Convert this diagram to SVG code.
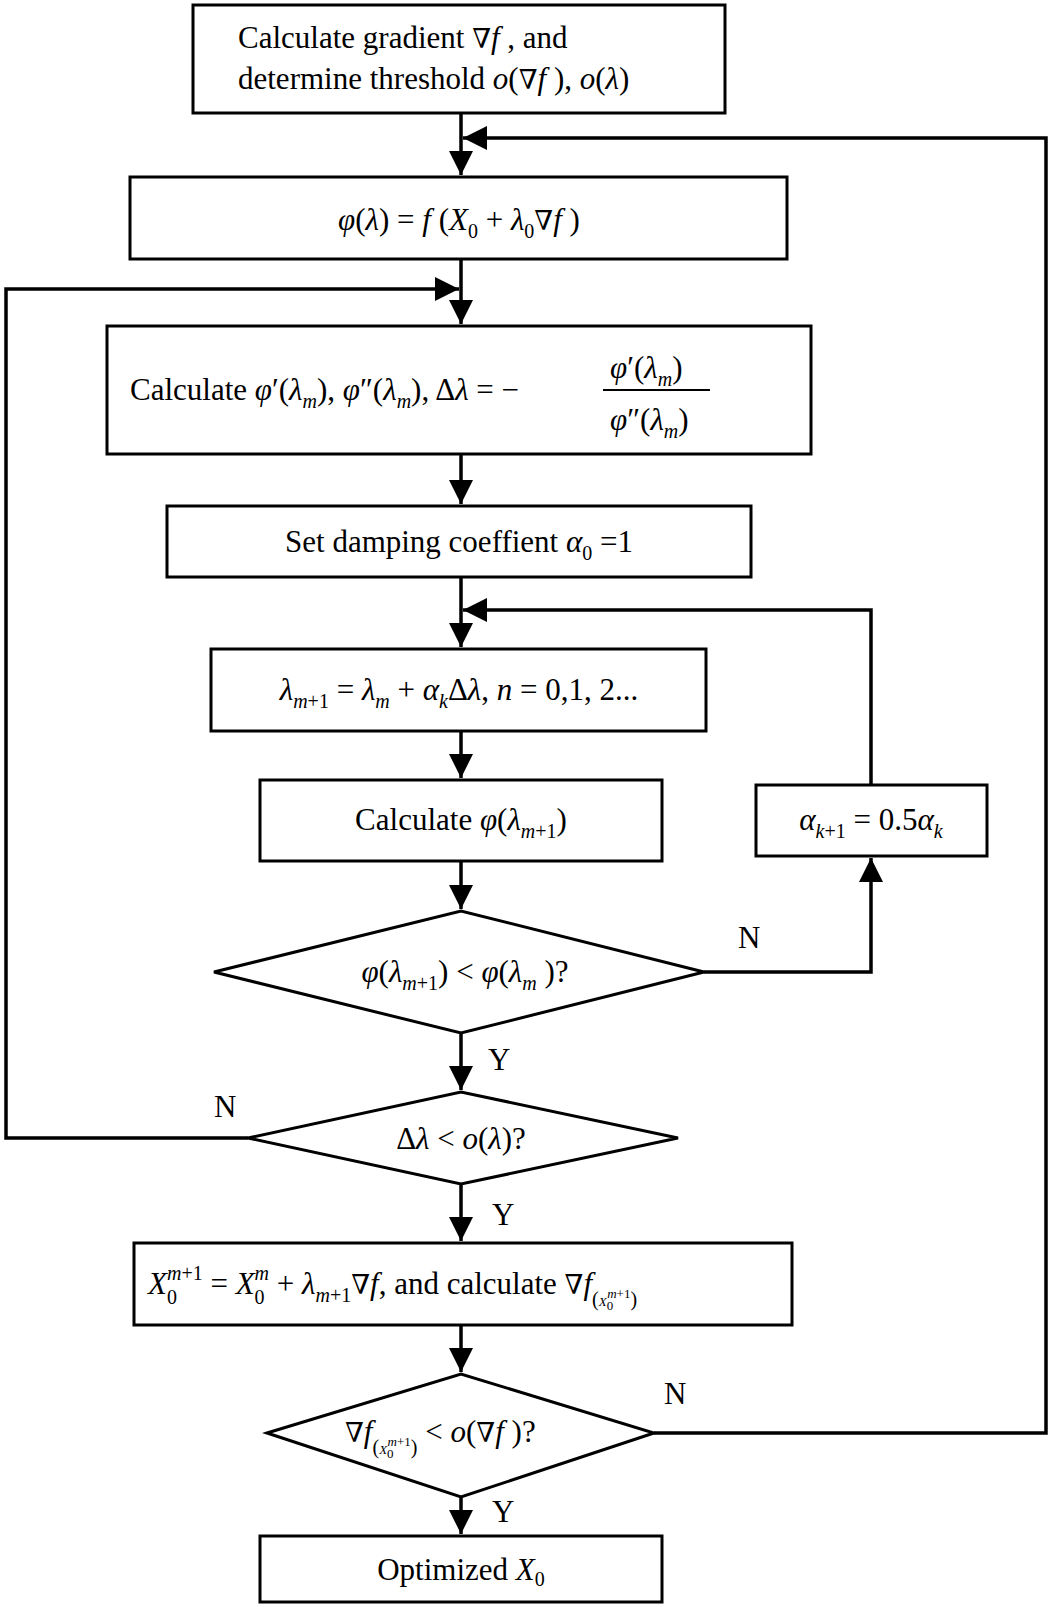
<svg xmlns="http://www.w3.org/2000/svg" width="1050" height="1607" viewBox="0 0 1050 1607" font-family="'Liberation Serif', 'Times New Roman', serif">
<style>
.b{fill:#fff;stroke:#000;stroke-width:3}
.l{fill:none;stroke:#000;stroke-width:3.5}
text{font-family:'Liberation Serif','Times New Roman',serif;font-size:31px;fill:#000}
.i{font-style:italic}
.s{font-size:20px}
.t{font-size:13px}
.g{font-family:'DejaVu Serif',serif;font-size:27px}
</style>
<defs>
<marker id="h" viewBox="0 0 10 10" refX="10" refY="5" markerWidth="24" markerHeight="24" orient="auto" markerUnits="userSpaceOnUse"><path d="M0,0 L10,5 L0,10 z" fill="#000"/></marker></defs>
<g id="connectors">
<path class="l" d="M461,113 V175" marker-end="url(#h)"/>
<path class="l" d="M654,1433 H1046 V138 H463" marker-end="url(#h)"/>
<path class="l" d="M461,259 V324" marker-end="url(#h)"/>
<path class="l" d="M248,1138 H6 V289 H459" marker-end="url(#h)"/>
<path class="l" d="M461,454 V504" marker-end="url(#h)"/>
<path class="l" d="M461,577 V647" marker-end="url(#h)"/>
<path class="l" d="M871,785 V610 H463" marker-end="url(#h)"/>
<path class="l" d="M461,731 V778" marker-end="url(#h)"/>
<path class="l" d="M461,861 V909" marker-end="url(#h)"/>
<path class="l" d="M704,972 H871 V858" marker-end="url(#h)"/>
<path class="l" d="M461,1033 V1090" marker-end="url(#h)"/>
<path class="l" d="M461,1184 V1241" marker-end="url(#h)"/>
<path class="l" d="M461,1325 V1372" marker-end="url(#h)"/>
<path class="l" d="M461,1497 V1534" marker-end="url(#h)"/>
<text x="738" y="948">N</text><text x="488" y="1070">Y</text>
<text x="214" y="1117">N</text><text x="492" y="1225">Y</text>
<text x="664" y="1404">N</text><text x="492" y="1522">Y</text>
</g>
<g id="n1"><rect class="b" x="193" y="5" width="532" height="108"/>
<text x="238" y="48">Calculate gradient <tspan class="g">∇</tspan><tspan class="i">f</tspan> , and</text>
<text x="238" y="89">determine threshold  <tspan class="i">o</tspan>(<tspan class="g">∇</tspan><tspan class="i">f</tspan> ), <tspan class="i">o</tspan>(<tspan class="i">λ</tspan>)</text></g>
<g id="n2"><rect class="b" x="130" y="177" width="657" height="82"/>
<text x="459" y="230" text-anchor="middle"><tspan class="i">φ</tspan>(<tspan class="i">λ</tspan>) = <tspan class="i">f</tspan> (<tspan class="i">X</tspan><tspan class="s" dy="8">0</tspan><tspan dy="-8"> + </tspan><tspan class="i">λ</tspan><tspan class="s" dy="8">0</tspan><tspan class="g" dy="-8">∇</tspan><tspan class="i">f</tspan> )</text></g>
<g id="n3"><rect class="b" x="107" y="326" width="704" height="128"/>
<text x="130" y="400">Calculate <tspan class="i">φ</tspan>′(<tspan class="i">λ</tspan><tspan class="s i" dy="8">m</tspan><tspan dy="-8">), </tspan><tspan class="i">φ</tspan>″(<tspan class="i">λ</tspan><tspan class="s i" dy="8">m</tspan><tspan dy="-8">),   Δ</tspan><tspan class="i">λ</tspan> = −</text>
<line x1="603" y1="390" x2="710" y2="390" stroke="#000" stroke-width="2"/>
<text x="610" y="378"><tspan class="i">φ</tspan>′(<tspan class="i">λ</tspan><tspan class="s i" dy="8">m</tspan><tspan dy="-8">)</tspan></text>
<text x="610" y="430"><tspan class="i">φ</tspan>″(<tspan class="i">λ</tspan><tspan class="s i" dy="8">m</tspan><tspan dy="-8">)</tspan></text></g>
<g id="n4"><rect class="b" x="167" y="506" width="584" height="71"/>
<text x="459" y="552" text-anchor="middle">Set damping coeffient  <tspan class="i">α</tspan><tspan class="s" dy="8">0</tspan><tspan dy="-8"> =1</tspan></text></g>
<g id="n5"><rect class="b" x="211" y="649" width="495" height="82"/>
<text x="459" y="700" text-anchor="middle"><tspan class="i">λ</tspan><tspan class="s" dy="8"><tspan class="i s">m</tspan>+1</tspan><tspan dy="-8"> = </tspan><tspan class="i">λ</tspan><tspan class="s i" dy="8">m</tspan><tspan dy="-8"> + </tspan><tspan class="i">α</tspan><tspan class="s i" dy="8">k</tspan><tspan dy="-8">Δ</tspan><tspan class="i">λ</tspan>, <tspan class="i">n</tspan> = 0,1, 2...</text></g>
<g id="n6"><rect class="b" x="260" y="780" width="402" height="81"/>
<text x="461" y="830" text-anchor="middle">Calculate <tspan class="i">φ</tspan>(<tspan class="i">λ</tspan><tspan class="s" dy="8"><tspan class="i s">m</tspan>+1</tspan><tspan dy="-8">)</tspan></text></g>
<g id="n7"><rect class="b" x="756" y="785" width="231" height="71"/>
<text x="871" y="830" text-anchor="middle"><tspan class="i">α</tspan><tspan class="s" dy="8"><tspan class="i s">k</tspan>+1</tspan><tspan dy="-8"> = 0.5</tspan><tspan class="i">α</tspan><tspan class="s i" dy="8">k</tspan></text></g>
<g id="d1"><polygon class="b" points="214,972 461,911 704,972 461,1033"/>
<text x="465" y="982" text-anchor="middle"><tspan class="i">φ</tspan>(<tspan class="i">λ</tspan><tspan class="s" dy="8"><tspan class="i s">m</tspan>+1</tspan><tspan dy="-8">) &lt; </tspan><tspan class="i">φ</tspan>(<tspan class="i">λ</tspan><tspan class="s i" dy="8">m</tspan><tspan dy="-8"> )?</tspan></text></g>
<g id="d2"><polygon class="b" points="248,1138 461,1092 678,1138 461,1184"/>
<text x="461" y="1149" text-anchor="middle">Δ<tspan class="i">λ</tspan> &lt; <tspan class="i">o</tspan>(<tspan class="i">λ</tspan>)?</text></g>
<g id="n8"><rect class="b" x="134" y="1243" width="658" height="82"/>
<text x="148" y="1294"><tspan class="i">X</tspan><tspan class="s" dy="10">0</tspan><tspan class="s" dx="-10" dy="-24"><tspan class="i s">m</tspan>+1</tspan><tspan dy="14"> = </tspan><tspan class="i">X</tspan><tspan class="s" dy="10">0</tspan><tspan class="s i" dx="-10" dy="-24">m</tspan><tspan dy="14"> + </tspan><tspan class="i">λ</tspan><tspan class="s" dy="8"><tspan class="i s">m</tspan>+1</tspan><tspan class="g" dy="-8">∇</tspan><tspan class="i">f</tspan>, and calculate <tspan class="g">∇</tspan><tspan class="i">f</tspan><tspan class="s" dy="12">(</tspan><tspan class="i t">X</tspan><tspan class="t" dy="4">0</tspan><tspan class="t" dx="-6" dy="-12"><tspan class="i t">m</tspan>+1</tspan><tspan class="s" dy="8">)</tspan></text></g>
<g id="d3"><polygon class="b" points="267,1433 461,1374 654,1433 461,1497"/>
<text x="345" y="1442"><tspan class="g">∇</tspan><tspan class="i">f</tspan><tspan class="s" dy="12">(</tspan><tspan class="i t">X</tspan><tspan class="t" dy="4">0</tspan><tspan class="t" dx="-6" dy="-12"><tspan class="i t">m</tspan>+1</tspan><tspan class="s" dy="8">)</tspan><tspan dy="-12"> &lt; </tspan><tspan class="i">o</tspan>(<tspan class="g">∇</tspan><tspan class="i">f</tspan> )?</text></g>
<g id="n9"><rect class="b" x="260" y="1536" width="402" height="66"/>
<text x="461" y="1580" text-anchor="middle">Optimized <tspan class="i">X</tspan><tspan class="s" dy="6">0</tspan></text></g>
</svg>
